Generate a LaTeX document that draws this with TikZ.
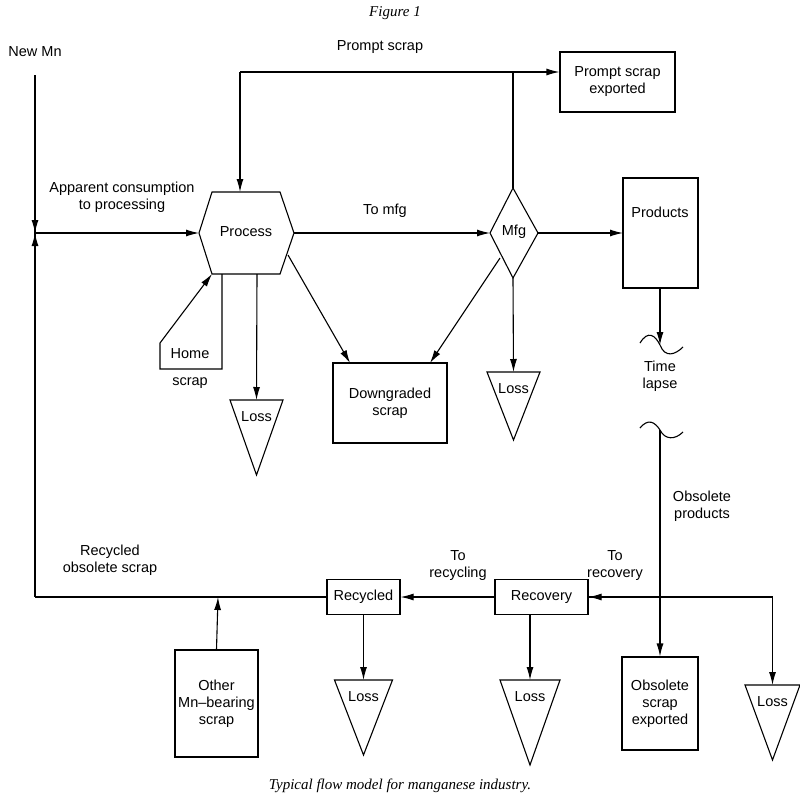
\documentclass[tikz,border=0pt]{standalone}
\usepackage{fontspec}
\setmainfont{Liberation Sans}
\newfontfamily\serifit{Liberation Serif}
\usetikzlibrary{arrows.meta}
\begin{document}
\begin{tikzpicture}[x=1pt,y=-1pt,line width=1.1pt,
  lbl/.style={font=\fontsize{14.5}{17}\selectfont,align=center,inner sep=0pt},
  arr/.style={-{Latex[length=13pt,width=7pt]}},
  box/.style={draw}]
\useasboundingbox (0,0) rectangle (800,809);
\node[lbl,font=\serifit\itshape\fontsize{15}{17}\selectfont] (title) at (395,13) {Figure 1};
\node[lbl,font=\serifit\itshape\fontsize{15}{17}\selectfont] (cap) at (400,786) {Typical flow model for manganese industry.};
% Process hexagon
\draw (199,233) -- (212,192) -- (280,192) -- (294,233) -- (280,274) -- (212,274) -- cycle;
\node[lbl] (proc) at (246,232) {Process};
\coordinate (pL) at (199,233); \coordinate (pT) at (240,192); \coordinate (pR) at (294,233);
% Mfg diamond
\draw (490,233) -- (513,188) -- (538,233) -- (513,278) -- cycle;
\node[lbl] (mfg) at (514,232) {Mfg};
\coordinate (mL) at (490,233); \coordinate (mT) at (513,188); \coordinate (mR) at (538,233); \coordinate (mB) at (513,278);
% boxes
\node[box,minimum width=115,minimum height=60,lbl] (pse) at (617.5,82) {Prompt scrap\\exported};
\draw (623,178) rectangle (698,288);
\node[lbl] (prod) at (660,212) {Products};
\coordinate (prodL) at (623,233); \coordinate (prodB) at (660,288);
\node[box,minimum width=114,minimum height=80,lbl] (down) at (390,403) {Downgraded\\scrap};
\node[box,minimum width=76,minimum height=93,lbl] (ose) at (660,703.5) {Obsolete\\scrap\\exported};
\node[box,minimum width=93,minimum height=35,lbl] (rec) at (541.5,597) {Recovery};
\node[box,minimum width=73,minimum height=35,lbl] (recy) at (363.5,597) {Recycled};
\node[box,minimum width=83,minimum height=107,lbl] (oth) at (216.5,703.5) {Other\\Mn--bearing\\scrap};
% losses
\foreach \n/\xa/\xb/\ya/\yb in {l1/230/283/400/475, l2/487/540/372/440, l3/334.5/392.5/680/755, l4/500/560/680/765, l5/745/800/685/760}{
  \draw (\xa,\ya) -- (\xb,\ya) -- ({(\xa+\xb)/2},\yb) -- cycle;
  \node[lbl] (\n) at ({(\xa+\xb)/2},{\ya+17}) {Loss};
  \coordinate (\n t) at ({(\xa+\xb)/2},\ya);
}
% labels
\node[lbl] (newmn) at (35,52) {New Mn};
\node[lbl] (ps) at (380,47) {Prompt scrap};
\node[lbl] (ac) at (122,197) {Apparent consumption\\to processing};
\node[lbl] (tm) at (385,211) {To mfg};
\node[lbl] (hs1) at (190,354) {Home};
\node[lbl] (hs2) at (190,383) {scrap};
\node[lbl] (tl) at (660,376) {Time\\lapse};
\node[lbl] (op) at (702,506) {Obsolete\\products};
\node[lbl] (tr) at (615,566) {To\\recovery};
\node[lbl] (trc) at (458,566) {To\\recycling};
\node[lbl] (ros) at (110,560) {Recycled\\obsolete scrap};
% New Mn line
\coordinate (j) at (35,233);
\draw (35,75) -- (35,597);
\draw[arr] (35,190) -- (j);
\draw[arr] (35,270) -- (j);
\draw[arr] (j) -- (pL);
% prompt scrap
\coordinate (pc1) at (240,72); \coordinate (pc2) at (513,72);
\draw[arr] (pc1) -- (pT);
\draw[arr] (pc1) -- (pse.west |- pc1);
\draw (mT) -- (pc2);
\draw[arr] (pR) -- (mL);
\draw[arr] (mR) -- (prodL);
% home scrap
\draw[arr] (222,274) -- (222,369) -- (160,369) -- (160,343) -- (212,274);
\draw[arr] (257,274) -- (l1t);
\draw[arr] (288,255) -- (350,363);
\draw[arr] (500,258) -- (430,363);
\draw[arr] (mB) -- (l2t);
% time lapse
\coordinate (t1) at (660,345); \coordinate (t2) at (660,430);
\draw[arr] (prodB) -- (t1);
\draw (640,343) .. controls (648,330) and (655,335) .. (660,345) .. controls (665,358) and (675,355) .. (683,347);
\draw (640,428) .. controls (648,418) and (655,422) .. (660,430) .. controls (665,440) and (675,440) .. (683,432);
\draw[arr] (t2) -- (ose.north);
% bottom flow
\coordinate (c1) at (772.5,597);
\draw (c1) -- (rec.east);
\draw[arr] (c1) -- (l5t);
\draw[arr] (660,597) -- (rec.east);
\draw[arr] (rec.west) -- (recy.east);
\draw (recy.west) -- (35,597);
\draw[arr] (oth.north) -- (218,597);
\draw[arr] (recy.south) -- (l3t);
\draw[arr] (rec.south -| l4t) -- (l4t);
\end{tikzpicture}
\end{document}
